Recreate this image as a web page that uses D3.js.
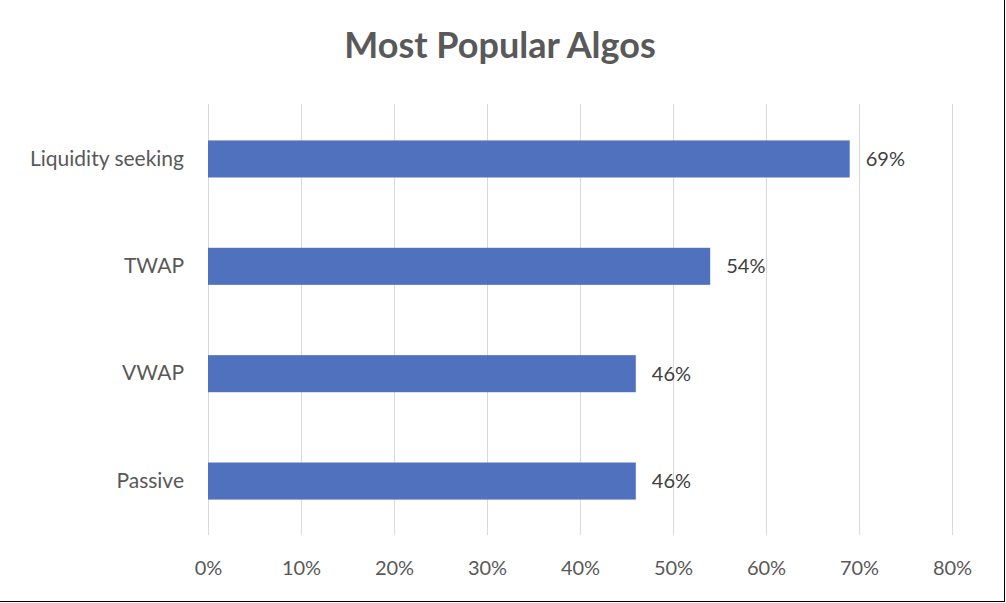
<!DOCTYPE html>
<html><head><meta charset="utf-8">
<script src="https://cdn.jsdelivr.net/npm/d3@7"></script>
<style>body{margin:0;background:#fff}svg{display:block;font-family:Lato,"Open Sans",sans-serif}</style>
</head><body><svg id="c" width="1006" height="603"></svg>
<script>
const categories = ["Liquidity seeking","TWAP","VWAP","Passive"];
const values = [69,54,46,46];
const tickValues = [0,10,20,30,40,50,60,70,80];
const title = "Most Popular Algos";

const svg = d3.select("#c");
svg.append("line").attr("x1",0).attr("x2",1005).attr("y1",601.5).attr("y2",601.5).attr("stroke","#000");
svg.append("line").attr("x1",1004.5).attr("x2",1004.5).attr("y1",0).attr("y2",602).attr("stroke","#000");
const x = d3.scaleLinear().domain([0,80]).range([208,952]);
const y = d3.scaleBand().domain(categories).range([105,535]).paddingInner(0.655).paddingOuter(0.33);

svg.append("g").selectAll("line").data(tickValues).join("line")
  .attr("x1",d=>x(d)+0.5).attr("x2",d=>x(d)+0.5).attr("y1",104).attr("y2",535)
  .attr("stroke","#d9d9d9").attr("stroke-width",1);

const xa = svg.append("g").attr("transform","translate(0,535)")
  .call(d3.axisBottom(x).tickValues(tickValues).tickFormat(d=>d+"%").tickSize(0).tickPadding(26));
xa.select(".domain").remove();
xa.selectAll("text").attr("font-size",20).attr("fill","#595959").attr("font-family","Lato,sans-serif");

const ya = svg.append("g").attr("transform","translate(208,0)")
  .call(d3.axisLeft(y).tickSize(0).tickPadding(24));
ya.select(".domain").remove();
ya.selectAll("text").attr("font-size",21).attr("fill","#595959").attr("font-family","Lato,sans-serif");

svg.append("g").selectAll("rect").data(categories).join("rect")
  .attr("x",x(0)).attr("y",d=>y(d)).attr("height",y.bandwidth())
  .attr("width",(d,i)=>x(values[i])-x(0)).attr("fill","#4f71be");

svg.append("g").selectAll("text").data(categories).join("text")
  .attr("x",(d,i)=>x(values[i])+16).attr("y",d=>y(d)+y.bandwidth()/2).attr("dy","0.35em")
  .attr("font-size",20).attr("fill","#404040").text((d,i)=>values[i]+"%");

svg.append("text").attr("x",500).attr("y",58).attr("text-anchor","middle")
  .attr("font-size",36).attr("font-weight","bold").attr("fill","#595959").text(title);
</script></body></html>
